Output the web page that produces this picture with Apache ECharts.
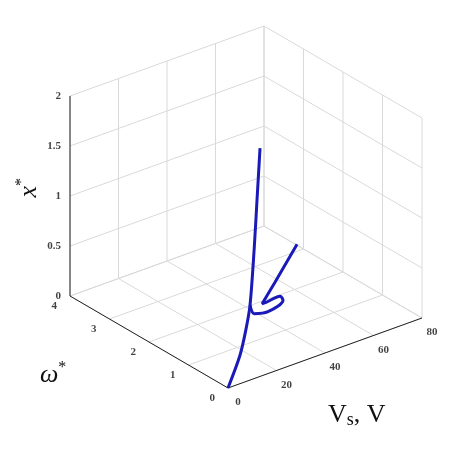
<!DOCTYPE html>
<html><head><meta charset="utf-8">
<script src="https://cdn.jsdelivr.net/npm/echarts@6/dist/echarts.min.js"></script>
<style>html,body{margin:0;padding:0;background:#fff}#c{width:474px;height:449px}</style>
</head><body><div id="c"></div>
<script>
// Axis ticks
const vTicks = [0, 20, 40, 60, 80];
const wTicks = [0, 1, 2, 3, 4];
const xTicks = [0, 0.5, 1, 1.5, 2];
const xTickLabels = ['0', '0.5', '1', '1.5', '2'];
// Trajectory (V_s, omega*, x*)
const curveA_V = [0, 8.2, 13.9, 16.9, 21.2, 25.0, 29.5];
const curveA_W = [0, 0.2, 0.4, 0.48, 0.64, 0.8, 1.0];
const curveA_X = [0, 0.21, 0.37, 0.57, 1.05, 1.48, 1.91];
const curveB_V = [16.9, 18.6, 24.3, 30.5, 29.3, 23.5, 21.9, 27.2, 36.3];
const curveB_W = [0.48, 0.48, 0.48, 0.48, 0.48, 0.48, 0.48, 0.48, 0.48];
const curveB_X = [0.57, 0.47, 0.44, 0.50, 0.55, 0.54, 0.54, 0.71, 1.01];

// oblique view projection of the 3D box onto the page plane
function P(v, w, x) {
  return [228 + v / 80 * 194 - w / 4 * 158, 388 - v / 80 * 70 - w / 4 * 92 - x * 100];
}
const series = [];
function seg(a, b, color, width) {
  series.push({type: 'line', data: [a, b], symbol: 'none', silent: true,
    lineStyle: {color: color, width: width || 1}, z: 1});
}
const grid = '#d9d9d9';
// floor
vTicks.forEach(v => seg(P(v, 0, 0), P(v, 4, 0), grid));
wTicks.forEach(w => seg(P(0, w, 0), P(80, w, 0), grid));
// back wall (w=4)
vTicks.forEach(v => seg(P(v, 4, 0), P(v, 4, 2), grid));
xTicks.forEach(x => seg(P(0, 4, x), P(80, 4, x), grid));
// side wall (v=80)
wTicks.forEach(w => seg(P(80, w, 0), P(80, w, 2), grid));
xTicks.forEach(x => seg(P(80, 0, x), P(80, 4, x), grid));
// axes
seg(P(0, 0, 0), P(80, 0, 0), '#222', 1);
seg(P(0, 0, 0), P(0, 4, 0), '#222', 1);
seg(P(0, 4, 0), P(0, 4, 2), '#222', 1);
// curves
function curve(V, W, X) {
  series.push({type: 'line', data: V.map((v, i) => P(v, W[i], X[i])), symbol: 'none', smooth: 0.3,
    lineStyle: {color: '#1a1ab8', width: 3}, z: 5});
}
curve(curveA_V, curveA_W, curveA_X);
curve(curveB_V, curveB_W, curveB_X);
// tick labels
const lab = {fontFamily: 'Liberation Serif', fontWeight: 'bold', fontSize: 11, color: '#111'};
function labels(pts, texts, pos) {
  series.push({type: 'scatter', symbolSize: 0, silent: true,
    data: pts.map((p, i) => ({value: p, label: {formatter: texts[i]}})),
    label: Object.assign({show: true, position: pos[0], offset: pos[1]}, lab)});
}
labels(vTicks.map(v => P(v, 0, 0)), vTicks.map(String), ['bottom', [10, 4]]);
labels(wTicks.map(w => P(0, w, 0)), wTicks.map(String), ['left', [-8, 10]]);
labels(xTicks.map(x => P(0, 4, x)), xTickLabels, ['left', [-4, 0]]);

const chart = echarts.init(document.getElementById('c'));
chart.setOption({
  animation: false,
  grid: {left: 0, right: 0, top: 0, bottom: 0},
  xAxis: {type: 'value', min: 0, max: 474, show: false},
  yAxis: {type: 'value', min: 0, max: 449, inverse: true, show: false},
  series: series,
  graphic: [
    {type: 'text', left: 14, top: 178, rotation: Math.PI / 2, style: {text: '{b|x}{s|*}',
      rich: {b: {fontFamily: 'Liberation Serif', fontStyle: 'italic', fontSize: 26, fill: '#111'},
             s: {fontFamily: 'Liberation Serif', fontSize: 16, fill: '#111', verticalAlign: 'top', padding: [0,0,14,0]}}}},
    {type: 'text', left: 40, top: 360, style: {text: '{b|ω}{s|*}',
      rich: {b: {fontFamily: 'Liberation Serif', fontStyle: 'italic', fontSize: 26, fill: '#111'},
             s: {fontFamily: 'Liberation Serif', fontSize: 16, fill: '#111', padding: [0,0,14,0]}}}},
    {type: 'text', left: 328, top: 402, style: {text: '{b|V}{s|s}{b|, V}',
      rich: {b: {fontFamily: 'Liberation Serif', fontSize: 26, fill: '#111'},
             s: {fontFamily: 'Liberation Serif', fontSize: 18, fill: '#111', padding: [10,0,0,0]}}}}
  ]
});
</script></body></html>
